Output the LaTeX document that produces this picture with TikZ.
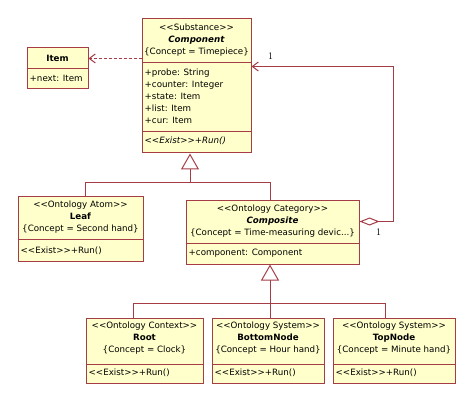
\documentclass[tikz,border=0pt]{standalone}
\usepackage{fontspec}
\newfontfamily\umlfont{DejaVu Sans}
\usetikzlibrary{arrows.meta,calc,positioning}
\definecolor{umlred}{RGB}{165,60,70}
\definecolor{umlyellow}{RGB}{255,255,204}
\begin{document}
\begin{tikzpicture}[x=1pt,y=-1pt,
	classbox/.style={draw=umlred,fill=umlyellow,line width=1pt,inner sep=0pt},
	txt/.style={font=\umlfont\fontsize{8.7}{12}\selectfont,inner sep=0pt},
	head/.style={txt,align=center},
	body/.style={txt,align=left,anchor=west},
	sep/.style={draw=umlred,line width=1pt},
	link/.style={draw=umlred,line width=1pt},
	gen/.style={link,-{Triangle[open,length=16pt,width=18pt]}},
	dep/.style={link,dash pattern=on 3pt off 2pt,-{Straight Barb[length=6pt,width=9pt]}},
	mult/.style={font=\fontsize{10}{12}\selectfont,inner sep=0pt}]
	\useasboundingbox (0,0) rectangle (474,401);
	
	%Item
	\node[classbox,minimum width=61,minimum height=41] (item) at (57.5,68.5) {};
	\node[head] (itemName) at ($(item.north)+(0,10.5)$) {\textbf{Item}};
	\draw[sep] ($(item.north west)+(0,21)$) -- ($(item.north east)+(0,21)$);
	\node[body] (itemAttr) at ($(item.north west)+(3,31)$) {+next: Item};
	
	%Component
	\node[classbox,minimum width=109,minimum height=134] (comp) at (196.5,86) {};
	\node[head] (compName) at ($(comp.north)+(0,22)$) {<<Substance>>\\\textbf{\textit{Component}}\\\{Concept = Timepiece\}};
	\draw[sep] ($(comp.north west)+(0,44)$) -- ($(comp.north east)+(0,44)$);
	\node[body] (compAttr) at ($(comp.north west)+(3,78)$) {+probe: String\\+counter: Integer\\+state: Item\\+list: Item\\+cur: Item};
	\draw[sep] ($(comp.north west)+(0,113)$) -- ($(comp.north east)+(0,113)$);
	\node[body] (compOp) at ($(comp.north west)+(3,122)$) {\textit{<<Exist>>+Run()}};
	
	%Leaf
	\node[classbox,minimum width=125,minimum height=65] (leaf) at (80.5,228.5) {};
	\node[head] (leafName) at ($(leaf.north)+(0,22)$) {<<Ontology Atom>>\\\textbf{Leaf}\\\{Concept = Second hand\}};
	\draw[sep] ($(leaf.north west)+(0,44)$) -- ($(leaf.north east)+(0,44)$);
	\node[body] (leafOp) at ($(leaf.north west)+(3,55)$) {<<Exist>>+Run()};
	
	%Composite
	\node[classbox,minimum width=173,minimum height=64] (compo) at (272.5,232) {};
	\node[head] (compoName) at ($(compo.north)+(0,22)$) {<<Ontology Category>>\\\textbf{\textit{Composite}}\\\{Concept = Time-measuring devic...\}};
	\draw[sep] ($(compo.north west)+(0,44)$) -- ($(compo.north east)+(0,44)$);
	\node[body] (compoAttr) at ($(compo.north west)+(3,54)$) {+component: Component};
	
	%Root, BottomNode, TopNode
	\foreach \nm/\cx/\w/\st/\ti/\cc in {
		root/144.5/117/Context/Root/Clock,
		bottom/268/112/System/BottomNode/Hour hand,
		topn/394/122/System/TopNode/Minute hand}{
		\node[classbox,minimum width=\w,minimum height=65] (\nm) at (\cx,350.5) {};
		\node[head] (\nm Name) at ($(\nm.north)+(0,21)$) {<<Ontology \st>>\\\textbf{\ti}\\\{Concept = \cc\}};
		\draw[sep] ($(\nm.north west)+(0,47)$) -- ($(\nm.north east)+(0,47)$);
		\node[body] (\nm Op) at ($(\nm.north west)+(3,55)$) {<<Exist>>+Run()};
	}
	
	%dependency
	\coordinate (depFrom) at ($(comp.north west)+(0,40)$);
	\draw[dep] (depFrom) -- (depFrom -| item.east);
	
	%aggregation
	\coordinate (aggrEnd) at ($(compo.north east)+(0,22)$);
	\coordinate (assocEnd) at ($(comp.north east)+(0,48)$);
	\draw[link,{Diamond[open,length=20pt,width=8pt]}-{Straight Barb[length=6pt,width=9pt]}] (aggrEnd) -- ++(34,0) |- (assocEnd);
	\node[mult] (multComp) at ($(assocEnd)+(19,-10)$) {1};
	\node[mult] (multCompo) at ($(aggrEnd)+(19,11)$) {1};
	
	%generalization
	\coordinate (genA) at ($(comp.south)+(-6.5,29)$);
	\draw[gen] (genA) -- (genA |- comp.south);
	\draw[link] ([xshift=4.5pt]leaf.north) |- (genA) -| ([xshift=-2.5pt]compo.north);
	
	\coordinate (genB) at ($(compo.south)+(-2.5,39)$);
	\draw[gen] (genB) -- (genB |- compo.south);
	\draw[link] ([xshift=-11.5pt]root.north) |- (genB) -| ([xshift=-9pt]topn.north);
	\draw[link] (genB) -- (genB |- bottom.north);
\end{tikzpicture}
\end{document}
